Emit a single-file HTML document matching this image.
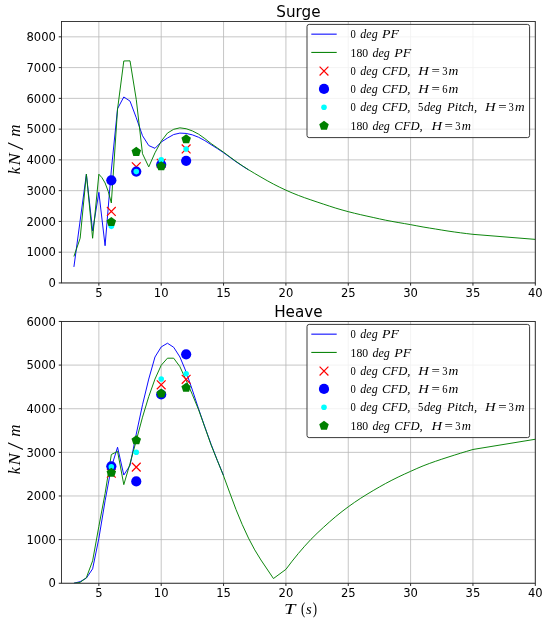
<!DOCTYPE html><html><head><meta charset="utf-8"><title>Surge / Heave</title><style>html,body{margin:0;padding:0;background:#fff}svg{display:block}</style></head><body>
<svg width="550" height="624" viewBox="0 0 550 624">
<rect width="550" height="624" fill="#fff"/>
<rect x="61.45" y="21.45" width="473.85" height="261.50" fill="#fff"/>
<line x1="98.86" y1="21.45" x2="98.86" y2="282.95" stroke="#b8b8b8" stroke-width="0.8"/>
<line x1="161.21" y1="21.45" x2="161.21" y2="282.95" stroke="#b8b8b8" stroke-width="0.8"/>
<line x1="223.56" y1="21.45" x2="223.56" y2="282.95" stroke="#b8b8b8" stroke-width="0.8"/>
<line x1="285.91" y1="21.45" x2="285.91" y2="282.95" stroke="#b8b8b8" stroke-width="0.8"/>
<line x1="348.25" y1="21.45" x2="348.25" y2="282.95" stroke="#b8b8b8" stroke-width="0.8"/>
<line x1="410.60" y1="21.45" x2="410.60" y2="282.95" stroke="#b8b8b8" stroke-width="0.8"/>
<line x1="472.95" y1="21.45" x2="472.95" y2="282.95" stroke="#b8b8b8" stroke-width="0.8"/>
<line x1="535.30" y1="21.45" x2="535.30" y2="282.95" stroke="#b8b8b8" stroke-width="0.8"/>
<line x1="61.45" y1="282.95" x2="535.30" y2="282.95" stroke="#b8b8b8" stroke-width="0.8"/>
<line x1="61.45" y1="252.19" x2="535.30" y2="252.19" stroke="#b8b8b8" stroke-width="0.8"/>
<line x1="61.45" y1="221.42" x2="535.30" y2="221.42" stroke="#b8b8b8" stroke-width="0.8"/>
<line x1="61.45" y1="190.66" x2="535.30" y2="190.66" stroke="#b8b8b8" stroke-width="0.8"/>
<line x1="61.45" y1="159.89" x2="535.30" y2="159.89" stroke="#b8b8b8" stroke-width="0.8"/>
<line x1="61.45" y1="129.13" x2="535.30" y2="129.13" stroke="#b8b8b8" stroke-width="0.8"/>
<line x1="61.45" y1="98.36" x2="535.30" y2="98.36" stroke="#b8b8b8" stroke-width="0.8"/>
<line x1="61.45" y1="67.60" x2="535.30" y2="67.60" stroke="#b8b8b8" stroke-width="0.8"/>
<line x1="61.45" y1="36.83" x2="535.30" y2="36.83" stroke="#b8b8b8" stroke-width="0.8"/>
<clipPath id="cp1"><rect x="61.45" y="21.45" width="473.85" height="261.50"/></clipPath>
<g clip-path="url(#cp1)">
<polyline points="73.92,266.92 86.39,174.20 92.62,230.96 98.86,192.35 105.09,245.72 111.33,170.04 117.56,108.67 123.80,96.98 130.03,101.13 136.27,117.74 142.50,135.74 148.74,145.55 154.97,148.32 161.21,142.05 167.44,138.05 173.68,134.54 179.91,133.10 186.15,133.43 192.38,134.86 198.62,137.28 204.85,140.63 211.09,144.63 217.32,148.56 223.56,152.69 229.79,157.21 236.03,161.74 242.26,165.92 248.50,169.89" fill="none" stroke="#0000ff" stroke-width="0.95" stroke-linejoin="round"/>
<polyline points="73.92,256.46 80.15,238.28 86.39,174.20 92.62,238.28 98.86,174.20 101.98,177.73 105.09,182.96 108.21,191.27 111.33,202.96 117.56,109.13 123.80,60.98 130.03,60.83 136.27,99.59 142.50,153.74 148.74,166.87 154.97,152.82 161.21,141.25 167.44,133.10 173.68,129.31 179.91,127.83 186.15,128.73 192.38,130.91 198.62,134.17 204.85,138.60 211.09,143.56 217.32,147.89 223.56,152.20 229.79,156.84 236.03,161.43 242.26,165.68 248.50,169.71 254.73,173.49 260.97,177.12 267.20,180.68 273.44,184.07 279.67,187.22 285.91,190.16 292.14,192.90 298.38,195.42 304.61,197.72 310.84,199.89 317.08,202.00 323.31,204.07 329.55,206.14 335.78,208.13 342.02,209.96 348.25,211.67 354.49,213.24 360.72,214.71 366.96,216.12 373.19,217.48 379.43,218.87 385.66,220.19 391.90,221.38 398.13,222.50 404.37,223.57 410.60,224.65 416.84,225.83 423.07,226.99 429.31,228.02 435.54,229.02 441.78,230.05 448.01,231.05 454.25,231.96 460.48,232.80 466.72,233.60 472.95,234.34 535.30,239.39" fill="none" stroke="#008000" stroke-width="0.95" stroke-linejoin="round"/>
<path d="M106.93 207.02L115.73 215.82M106.93 215.82L115.73 207.02" stroke="#ff0000" stroke-width="1.2" fill="none"/>
<path d="M131.87 162.41L140.67 171.21M131.87 171.21L140.67 162.41" stroke="#ff0000" stroke-width="1.2" fill="none"/>
<path d="M156.81 158.88L165.61 167.68M156.81 167.68L165.61 158.88" stroke="#ff0000" stroke-width="1.2" fill="none"/>
<path d="M181.75 144.54L190.55 153.34M181.75 153.34L190.55 144.54" stroke="#ff0000" stroke-width="1.2" fill="none"/>
<circle cx="111.33" cy="180.29" r="5.10" fill="#0000ff"/>
<circle cx="136.27" cy="171.61" r="5.10" fill="#0000ff"/>
<circle cx="161.21" cy="164.66" r="5.10" fill="#0000ff"/>
<circle cx="186.15" cy="160.84" r="5.10" fill="#0000ff"/>
<circle cx="111.33" cy="226.34" r="2.80" fill="#00ffff"/>
<circle cx="136.27" cy="171.61" r="2.80" fill="#00ffff"/>
<circle cx="161.21" cy="159.89" r="2.80" fill="#00ffff"/>
<circle cx="186.15" cy="148.94" r="2.80" fill="#00ffff"/>
<polygon points="111.33,217.01 116.08,220.46 114.27,226.05 108.39,226.05 106.57,220.46" fill="#008000"/>
<polygon points="136.27,146.83 141.02,150.29 139.21,155.88 133.33,155.88 131.51,150.29" fill="#008000"/>
<polygon points="161.21,161.23 165.96,164.68 164.15,170.27 158.27,170.27 156.45,164.68" fill="#008000"/>
<polygon points="186.15,134.31 190.90,137.76 189.09,143.35 183.21,143.35 181.39,137.76" fill="#008000"/>
</g>
<line x1="98.86" y1="282.95" x2="98.86" y2="285.65" stroke="#262626" stroke-width="1"/>
<text x="98.86" y="296.85" font-family='"DejaVu Sans","Liberation Sans",sans-serif' font-size="11.55" text-anchor="middle" fill="#000">5</text>
<line x1="161.21" y1="282.95" x2="161.21" y2="285.65" stroke="#262626" stroke-width="1"/>
<text x="161.21" y="296.85" font-family='"DejaVu Sans","Liberation Sans",sans-serif' font-size="11.55" text-anchor="middle" fill="#000">10</text>
<line x1="223.56" y1="282.95" x2="223.56" y2="285.65" stroke="#262626" stroke-width="1"/>
<text x="223.56" y="296.85" font-family='"DejaVu Sans","Liberation Sans",sans-serif' font-size="11.55" text-anchor="middle" fill="#000">15</text>
<line x1="285.91" y1="282.95" x2="285.91" y2="285.65" stroke="#262626" stroke-width="1"/>
<text x="285.91" y="296.85" font-family='"DejaVu Sans","Liberation Sans",sans-serif' font-size="11.55" text-anchor="middle" fill="#000">20</text>
<line x1="348.25" y1="282.95" x2="348.25" y2="285.65" stroke="#262626" stroke-width="1"/>
<text x="348.25" y="296.85" font-family='"DejaVu Sans","Liberation Sans",sans-serif' font-size="11.55" text-anchor="middle" fill="#000">25</text>
<line x1="410.60" y1="282.95" x2="410.60" y2="285.65" stroke="#262626" stroke-width="1"/>
<text x="410.60" y="296.85" font-family='"DejaVu Sans","Liberation Sans",sans-serif' font-size="11.55" text-anchor="middle" fill="#000">30</text>
<line x1="472.95" y1="282.95" x2="472.95" y2="285.65" stroke="#262626" stroke-width="1"/>
<text x="472.95" y="296.85" font-family='"DejaVu Sans","Liberation Sans",sans-serif' font-size="11.55" text-anchor="middle" fill="#000">35</text>
<line x1="535.30" y1="282.95" x2="535.30" y2="285.65" stroke="#262626" stroke-width="1"/>
<text x="535.30" y="296.85" font-family='"DejaVu Sans","Liberation Sans",sans-serif' font-size="11.55" text-anchor="middle" fill="#000">40</text>
<line x1="58.75" y1="282.95" x2="61.45" y2="282.95" stroke="#262626" stroke-width="1"/>
<text x="55.85" y="287.15" font-family='"DejaVu Sans","Liberation Sans",sans-serif' font-size="11.55" text-anchor="end" fill="#000">0</text>
<line x1="58.75" y1="252.19" x2="61.45" y2="252.19" stroke="#262626" stroke-width="1"/>
<text x="55.85" y="256.39" font-family='"DejaVu Sans","Liberation Sans",sans-serif' font-size="11.55" text-anchor="end" fill="#000">1000</text>
<line x1="58.75" y1="221.42" x2="61.45" y2="221.42" stroke="#262626" stroke-width="1"/>
<text x="55.85" y="225.62" font-family='"DejaVu Sans","Liberation Sans",sans-serif' font-size="11.55" text-anchor="end" fill="#000">2000</text>
<line x1="58.75" y1="190.66" x2="61.45" y2="190.66" stroke="#262626" stroke-width="1"/>
<text x="55.85" y="194.86" font-family='"DejaVu Sans","Liberation Sans",sans-serif' font-size="11.55" text-anchor="end" fill="#000">3000</text>
<line x1="58.75" y1="159.89" x2="61.45" y2="159.89" stroke="#262626" stroke-width="1"/>
<text x="55.85" y="164.09" font-family='"DejaVu Sans","Liberation Sans",sans-serif' font-size="11.55" text-anchor="end" fill="#000">4000</text>
<line x1="58.75" y1="129.13" x2="61.45" y2="129.13" stroke="#262626" stroke-width="1"/>
<text x="55.85" y="133.33" font-family='"DejaVu Sans","Liberation Sans",sans-serif' font-size="11.55" text-anchor="end" fill="#000">5000</text>
<line x1="58.75" y1="98.36" x2="61.45" y2="98.36" stroke="#262626" stroke-width="1"/>
<text x="55.85" y="102.56" font-family='"DejaVu Sans","Liberation Sans",sans-serif' font-size="11.55" text-anchor="end" fill="#000">6000</text>
<line x1="58.75" y1="67.60" x2="61.45" y2="67.60" stroke="#262626" stroke-width="1"/>
<text x="55.85" y="71.80" font-family='"DejaVu Sans","Liberation Sans",sans-serif' font-size="11.55" text-anchor="end" fill="#000">7000</text>
<line x1="58.75" y1="36.83" x2="61.45" y2="36.83" stroke="#262626" stroke-width="1"/>
<text x="55.85" y="41.03" font-family='"DejaVu Sans","Liberation Sans",sans-serif' font-size="11.55" text-anchor="end" fill="#000">8000</text>
<rect x="61.45" y="21.45" width="473.85" height="261.50" fill="none" stroke="#262626" stroke-width="0.9"/>
<text x="298.38" y="16.65" font-family='"DejaVu Sans","Liberation Sans",sans-serif' font-size="15.2" text-anchor="middle" fill="#000">Surge</text>
<g transform="translate(19.60,174.20) rotate(-90)" font-family='"Liberation Serif","DejaVu Serif",serif' fill="#000">
<text x="0.00" y="0.00" font-size="15.90" font-style="italic" textLength="7.00" lengthAdjust="spacingAndGlyphs">k</text><text x="8.70" y="0.00" font-size="15.90" font-style="italic" textLength="12.20" lengthAdjust="spacingAndGlyphs">N</text><text x="37.50" y="0.00" font-size="15.90" font-style="italic" textLength="12.30" lengthAdjust="spacingAndGlyphs">m</text>
<text x="24.10" y="3.20" font-size="23.00" font-style="normal" textLength="7.80" lengthAdjust="spacingAndGlyphs">/</text>
</g>
<rect x="307.00" y="24.40" width="222.60" height="113.20" rx="2.2" fill="#fff" fill-opacity="0.8" stroke="#3a3a3a" stroke-width="1"/>
<line x1="311.3" y1="34.15" x2="336.7" y2="34.15" stroke="#0000ff" stroke-width="1.05"/>
<line x1="311.3" y1="52.42" x2="336.7" y2="52.42" stroke="#008000" stroke-width="1.05"/>
<path d="M319.60 66.69L328.40 75.49M319.60 75.49L328.40 66.69" stroke="#ff0000" stroke-width="1.2" fill="none"/>
<circle cx="324.00" cy="88.96" r="5.10" fill="#0000ff"/>
<circle cx="324.00" cy="107.23" r="2.80" fill="#00ffff"/>
<polygon points="324.00,120.80 328.76,124.25 326.94,129.85 321.06,129.85 319.24,124.25" fill="#008000"/>
<g font-family='"Liberation Serif","DejaVu Serif",serif' fill="#000">
<text x="350.60" y="38.40" font-size="12.40" font-style="normal" textLength="5.30" lengthAdjust="spacingAndGlyphs">0</text><text x="360.30" y="38.40" font-size="12.40" font-style="italic" textLength="17.40" lengthAdjust="spacingAndGlyphs">deg</text><text x="382.10" y="38.40" font-size="12.40" font-style="italic" textLength="17.00" lengthAdjust="spacingAndGlyphs">PF</text>
<text x="350.60" y="56.67" font-size="12.40" font-style="normal" textLength="17.60" lengthAdjust="spacingAndGlyphs">180</text><text x="372.50" y="56.67" font-size="12.40" font-style="italic" textLength="17.40" lengthAdjust="spacingAndGlyphs">deg</text><text x="394.30" y="56.67" font-size="12.40" font-style="italic" textLength="17.00" lengthAdjust="spacingAndGlyphs">PF</text>
<text x="350.60" y="74.94" font-size="12.40" font-style="normal" textLength="5.30" lengthAdjust="spacingAndGlyphs">0</text><text x="360.30" y="74.94" font-size="12.40" font-style="italic" textLength="17.40" lengthAdjust="spacingAndGlyphs">deg</text><text x="382.10" y="74.94" font-size="12.40" font-style="italic" textLength="28.40" lengthAdjust="spacingAndGlyphs">CFD,</text><text x="418.30" y="74.94" font-size="12.40" font-style="italic" textLength="10.60" lengthAdjust="spacingAndGlyphs">H</text><text x="431.40" y="74.94" font-size="12.40" font-style="normal" textLength="8.40" lengthAdjust="spacingAndGlyphs">=</text><text x="442.20" y="74.94" font-size="12.40" font-style="normal" textLength="5.30" lengthAdjust="spacingAndGlyphs">3</text><text x="448.60" y="74.94" font-size="12.40" font-style="italic" textLength="9.80" lengthAdjust="spacingAndGlyphs">m</text>
<text x="350.60" y="93.21" font-size="12.40" font-style="normal" textLength="5.30" lengthAdjust="spacingAndGlyphs">0</text><text x="360.30" y="93.21" font-size="12.40" font-style="italic" textLength="17.40" lengthAdjust="spacingAndGlyphs">deg</text><text x="382.10" y="93.21" font-size="12.40" font-style="italic" textLength="28.40" lengthAdjust="spacingAndGlyphs">CFD,</text><text x="418.30" y="93.21" font-size="12.40" font-style="italic" textLength="10.60" lengthAdjust="spacingAndGlyphs">H</text><text x="431.40" y="93.21" font-size="12.40" font-style="normal" textLength="8.40" lengthAdjust="spacingAndGlyphs">=</text><text x="442.20" y="93.21" font-size="12.40" font-style="normal" textLength="5.30" lengthAdjust="spacingAndGlyphs">6</text><text x="448.60" y="93.21" font-size="12.40" font-style="italic" textLength="9.80" lengthAdjust="spacingAndGlyphs">m</text>
<text x="350.60" y="111.48" font-size="12.40" font-style="normal" textLength="5.30" lengthAdjust="spacingAndGlyphs">0</text><text x="360.30" y="111.48" font-size="12.40" font-style="italic" textLength="17.40" lengthAdjust="spacingAndGlyphs">deg</text><text x="382.10" y="111.48" font-size="12.40" font-style="italic" textLength="28.40" lengthAdjust="spacingAndGlyphs">CFD,</text><text x="418.00" y="111.48" font-size="12.40" font-style="normal" textLength="5.30" lengthAdjust="spacingAndGlyphs">5</text><text x="423.90" y="111.48" font-size="12.40" font-style="italic" textLength="17.60" lengthAdjust="spacingAndGlyphs">deg</text><text x="447.10" y="111.48" font-size="12.40" font-style="italic" textLength="30.00" lengthAdjust="spacingAndGlyphs">Pitch,</text><text x="485.00" y="111.48" font-size="12.40" font-style="italic" textLength="10.60" lengthAdjust="spacingAndGlyphs">H</text><text x="498.20" y="111.48" font-size="12.40" font-style="normal" textLength="8.40" lengthAdjust="spacingAndGlyphs">=</text><text x="508.60" y="111.48" font-size="12.40" font-style="normal" textLength="5.30" lengthAdjust="spacingAndGlyphs">3</text><text x="515.00" y="111.48" font-size="12.40" font-style="italic" textLength="9.60" lengthAdjust="spacingAndGlyphs">m</text>
<text x="350.60" y="129.75" font-size="12.40" font-style="normal" textLength="17.60" lengthAdjust="spacingAndGlyphs">180</text><text x="372.50" y="129.75" font-size="12.40" font-style="italic" textLength="17.40" lengthAdjust="spacingAndGlyphs">deg</text><text x="394.30" y="129.75" font-size="12.40" font-style="italic" textLength="28.40" lengthAdjust="spacingAndGlyphs">CFD,</text><text x="431.50" y="129.75" font-size="12.40" font-style="italic" textLength="10.60" lengthAdjust="spacingAndGlyphs">H</text><text x="444.60" y="129.75" font-size="12.40" font-style="normal" textLength="8.40" lengthAdjust="spacingAndGlyphs">=</text><text x="455.20" y="129.75" font-size="12.40" font-style="normal" textLength="5.30" lengthAdjust="spacingAndGlyphs">3</text><text x="461.70" y="129.75" font-size="12.40" font-style="italic" textLength="9.20" lengthAdjust="spacingAndGlyphs">m</text>
</g>
<rect x="61.45" y="321.45" width="473.85" height="261.80" fill="#fff"/>
<line x1="98.86" y1="321.45" x2="98.86" y2="583.25" stroke="#b8b8b8" stroke-width="0.8"/>
<line x1="161.21" y1="321.45" x2="161.21" y2="583.25" stroke="#b8b8b8" stroke-width="0.8"/>
<line x1="223.56" y1="321.45" x2="223.56" y2="583.25" stroke="#b8b8b8" stroke-width="0.8"/>
<line x1="285.91" y1="321.45" x2="285.91" y2="583.25" stroke="#b8b8b8" stroke-width="0.8"/>
<line x1="348.25" y1="321.45" x2="348.25" y2="583.25" stroke="#b8b8b8" stroke-width="0.8"/>
<line x1="410.60" y1="321.45" x2="410.60" y2="583.25" stroke="#b8b8b8" stroke-width="0.8"/>
<line x1="472.95" y1="321.45" x2="472.95" y2="583.25" stroke="#b8b8b8" stroke-width="0.8"/>
<line x1="535.30" y1="321.45" x2="535.30" y2="583.25" stroke="#b8b8b8" stroke-width="0.8"/>
<line x1="61.45" y1="583.25" x2="535.30" y2="583.25" stroke="#b8b8b8" stroke-width="0.8"/>
<line x1="61.45" y1="539.62" x2="535.30" y2="539.62" stroke="#b8b8b8" stroke-width="0.8"/>
<line x1="61.45" y1="495.98" x2="535.30" y2="495.98" stroke="#b8b8b8" stroke-width="0.8"/>
<line x1="61.45" y1="452.35" x2="535.30" y2="452.35" stroke="#b8b8b8" stroke-width="0.8"/>
<line x1="61.45" y1="408.72" x2="535.30" y2="408.72" stroke="#b8b8b8" stroke-width="0.8"/>
<line x1="61.45" y1="365.08" x2="535.30" y2="365.08" stroke="#b8b8b8" stroke-width="0.8"/>
<line x1="61.45" y1="321.45" x2="535.30" y2="321.45" stroke="#b8b8b8" stroke-width="0.8"/>
<clipPath id="cp2"><rect x="61.45" y="321.45" width="473.85" height="261.80"/></clipPath>
<g clip-path="url(#cp2)">
<polyline points="73.92,583.25 80.15,581.64 86.39,578.14 92.62,568.85 98.86,538.39 105.09,500.87 111.33,467.19 117.56,447.24 123.80,475.04 130.03,465.44 136.27,434.02 142.50,404.80 148.74,379.05 154.97,357.01 161.21,346.93 167.44,343.22 173.68,347.28 179.91,356.97 186.15,371.93 192.38,390.03 198.62,408.98 204.85,427.01 211.09,444.28 217.32,460.37 223.56,475.48" fill="none" stroke="#0000ff" stroke-width="0.95" stroke-linejoin="round"/>
<polyline points="73.92,583.25 80.15,582.38 86.39,577.66 92.62,560.82 98.86,526.35 105.09,493.50 111.33,454.53 117.56,451.35 123.80,484.64 130.03,463.52 136.27,440.57 142.50,417.20 148.74,396.63 154.97,379.05 161.21,365.26 167.44,358.19 173.68,358.19 179.91,366.65 186.15,380.36 192.38,394.61 198.62,409.81 204.85,427.26 211.09,444.93 217.32,460.48 223.56,475.87 229.79,492.88 236.03,509.55 242.26,524.61 248.50,538.13 254.73,549.86 260.97,560.04 273.44,578.54 285.91,569.37 292.14,561.16 298.38,553.45 304.61,546.22 310.84,539.49 317.08,533.30 323.31,527.49 329.55,521.87 335.78,516.53 342.02,511.52 348.25,506.80 354.49,502.38 360.72,498.21 366.96,494.30 373.19,490.57 379.43,486.94 385.66,483.46 391.90,480.19 398.13,477.09 404.37,474.15 410.60,471.33 416.84,468.53 423.07,465.88 429.31,463.51 435.54,461.29 441.78,459.18 448.01,457.15 454.25,455.16 460.48,453.22 466.72,451.32 472.95,449.47 535.30,439.26" fill="none" stroke="#008000" stroke-width="0.95" stroke-linejoin="round"/>
<path d="M106.93 468.89L115.73 477.69M106.93 477.69L115.73 468.89" stroke="#ff0000" stroke-width="1.2" fill="none"/>
<path d="M131.87 462.74L140.67 471.54M131.87 471.54L140.67 462.74" stroke="#ff0000" stroke-width="1.2" fill="none"/>
<path d="M156.81 380.41L165.61 389.21M156.81 389.21L165.61 380.41" stroke="#ff0000" stroke-width="1.2" fill="none"/>
<path d="M181.75 374.95L190.55 383.75M181.75 383.75L190.55 374.95" stroke="#ff0000" stroke-width="1.2" fill="none"/>
<circle cx="111.33" cy="466.31" r="5.10" fill="#0000ff"/>
<circle cx="136.27" cy="481.45" r="5.10" fill="#0000ff"/>
<circle cx="161.21" cy="394.49" r="5.10" fill="#0000ff"/>
<circle cx="186.15" cy="354.31" r="5.10" fill="#0000ff"/>
<circle cx="111.33" cy="466.75" r="2.80" fill="#00ffff"/>
<circle cx="136.27" cy="452.22" r="2.80" fill="#00ffff"/>
<circle cx="161.21" cy="378.96" r="2.80" fill="#00ffff"/>
<circle cx="186.15" cy="373.68" r="2.80" fill="#00ffff"/>
<polygon points="111.33,467.77 116.08,471.23 114.27,476.82 108.39,476.82 106.57,471.23" fill="#008000"/>
<polygon points="136.27,435.22 141.02,438.67 139.21,444.27 133.33,444.27 131.51,438.67" fill="#008000"/>
<polygon points="161.21,388.44 165.96,391.90 164.15,397.49 158.27,397.49 156.45,391.90" fill="#008000"/>
<polygon points="186.15,382.77 190.90,386.23 189.09,391.82 183.21,391.82 181.39,386.23" fill="#008000"/>
</g>
<line x1="98.86" y1="583.25" x2="98.86" y2="585.95" stroke="#262626" stroke-width="1"/>
<text x="98.86" y="597.15" font-family='"DejaVu Sans","Liberation Sans",sans-serif' font-size="11.55" text-anchor="middle" fill="#000">5</text>
<line x1="161.21" y1="583.25" x2="161.21" y2="585.95" stroke="#262626" stroke-width="1"/>
<text x="161.21" y="597.15" font-family='"DejaVu Sans","Liberation Sans",sans-serif' font-size="11.55" text-anchor="middle" fill="#000">10</text>
<line x1="223.56" y1="583.25" x2="223.56" y2="585.95" stroke="#262626" stroke-width="1"/>
<text x="223.56" y="597.15" font-family='"DejaVu Sans","Liberation Sans",sans-serif' font-size="11.55" text-anchor="middle" fill="#000">15</text>
<line x1="285.91" y1="583.25" x2="285.91" y2="585.95" stroke="#262626" stroke-width="1"/>
<text x="285.91" y="597.15" font-family='"DejaVu Sans","Liberation Sans",sans-serif' font-size="11.55" text-anchor="middle" fill="#000">20</text>
<line x1="348.25" y1="583.25" x2="348.25" y2="585.95" stroke="#262626" stroke-width="1"/>
<text x="348.25" y="597.15" font-family='"DejaVu Sans","Liberation Sans",sans-serif' font-size="11.55" text-anchor="middle" fill="#000">25</text>
<line x1="410.60" y1="583.25" x2="410.60" y2="585.95" stroke="#262626" stroke-width="1"/>
<text x="410.60" y="597.15" font-family='"DejaVu Sans","Liberation Sans",sans-serif' font-size="11.55" text-anchor="middle" fill="#000">30</text>
<line x1="472.95" y1="583.25" x2="472.95" y2="585.95" stroke="#262626" stroke-width="1"/>
<text x="472.95" y="597.15" font-family='"DejaVu Sans","Liberation Sans",sans-serif' font-size="11.55" text-anchor="middle" fill="#000">35</text>
<line x1="535.30" y1="583.25" x2="535.30" y2="585.95" stroke="#262626" stroke-width="1"/>
<text x="535.30" y="597.15" font-family='"DejaVu Sans","Liberation Sans",sans-serif' font-size="11.55" text-anchor="middle" fill="#000">40</text>
<line x1="58.75" y1="583.25" x2="61.45" y2="583.25" stroke="#262626" stroke-width="1"/>
<text x="55.85" y="587.45" font-family='"DejaVu Sans","Liberation Sans",sans-serif' font-size="11.55" text-anchor="end" fill="#000">0</text>
<line x1="58.75" y1="539.62" x2="61.45" y2="539.62" stroke="#262626" stroke-width="1"/>
<text x="55.85" y="543.82" font-family='"DejaVu Sans","Liberation Sans",sans-serif' font-size="11.55" text-anchor="end" fill="#000">1000</text>
<line x1="58.75" y1="495.98" x2="61.45" y2="495.98" stroke="#262626" stroke-width="1"/>
<text x="55.85" y="500.18" font-family='"DejaVu Sans","Liberation Sans",sans-serif' font-size="11.55" text-anchor="end" fill="#000">2000</text>
<line x1="58.75" y1="452.35" x2="61.45" y2="452.35" stroke="#262626" stroke-width="1"/>
<text x="55.85" y="456.55" font-family='"DejaVu Sans","Liberation Sans",sans-serif' font-size="11.55" text-anchor="end" fill="#000">3000</text>
<line x1="58.75" y1="408.72" x2="61.45" y2="408.72" stroke="#262626" stroke-width="1"/>
<text x="55.85" y="412.92" font-family='"DejaVu Sans","Liberation Sans",sans-serif' font-size="11.55" text-anchor="end" fill="#000">4000</text>
<line x1="58.75" y1="365.08" x2="61.45" y2="365.08" stroke="#262626" stroke-width="1"/>
<text x="55.85" y="369.28" font-family='"DejaVu Sans","Liberation Sans",sans-serif' font-size="11.55" text-anchor="end" fill="#000">5000</text>
<line x1="58.75" y1="321.45" x2="61.45" y2="321.45" stroke="#262626" stroke-width="1"/>
<text x="55.85" y="325.65" font-family='"DejaVu Sans","Liberation Sans",sans-serif' font-size="11.55" text-anchor="end" fill="#000">6000</text>
<rect x="61.45" y="321.45" width="473.85" height="261.80" fill="none" stroke="#262626" stroke-width="0.9"/>
<text x="298.38" y="316.65" font-family='"DejaVu Sans","Liberation Sans",sans-serif' font-size="15.2" text-anchor="middle" fill="#000">Heave</text>
<g transform="translate(19.60,474.20) rotate(-90)" font-family='"Liberation Serif","DejaVu Serif",serif' fill="#000">
<text x="0.00" y="0.00" font-size="15.90" font-style="italic" textLength="7.00" lengthAdjust="spacingAndGlyphs">k</text><text x="8.70" y="0.00" font-size="15.90" font-style="italic" textLength="12.20" lengthAdjust="spacingAndGlyphs">N</text><text x="37.50" y="0.00" font-size="15.90" font-style="italic" textLength="12.30" lengthAdjust="spacingAndGlyphs">m</text>
<text x="24.10" y="3.20" font-size="23.00" font-style="normal" textLength="7.80" lengthAdjust="spacingAndGlyphs">/</text>
</g>
<rect x="307.00" y="324.40" width="222.60" height="113.20" rx="2.2" fill="#fff" fill-opacity="0.8" stroke="#3a3a3a" stroke-width="1"/>
<line x1="311.3" y1="334.15" x2="336.7" y2="334.15" stroke="#0000ff" stroke-width="1.05"/>
<line x1="311.3" y1="352.42" x2="336.7" y2="352.42" stroke="#008000" stroke-width="1.05"/>
<path d="M319.60 366.69L328.40 375.49M319.60 375.49L328.40 366.69" stroke="#ff0000" stroke-width="1.2" fill="none"/>
<circle cx="324.00" cy="388.96" r="5.10" fill="#0000ff"/>
<circle cx="324.00" cy="407.23" r="2.80" fill="#00ffff"/>
<polygon points="324.00,420.80 328.76,424.25 326.94,429.85 321.06,429.85 319.24,424.25" fill="#008000"/>
<g font-family='"Liberation Serif","DejaVu Serif",serif' fill="#000">
<text x="350.60" y="338.40" font-size="12.40" font-style="normal" textLength="5.30" lengthAdjust="spacingAndGlyphs">0</text><text x="360.30" y="338.40" font-size="12.40" font-style="italic" textLength="17.40" lengthAdjust="spacingAndGlyphs">deg</text><text x="382.10" y="338.40" font-size="12.40" font-style="italic" textLength="17.00" lengthAdjust="spacingAndGlyphs">PF</text>
<text x="350.60" y="356.67" font-size="12.40" font-style="normal" textLength="17.60" lengthAdjust="spacingAndGlyphs">180</text><text x="372.50" y="356.67" font-size="12.40" font-style="italic" textLength="17.40" lengthAdjust="spacingAndGlyphs">deg</text><text x="394.30" y="356.67" font-size="12.40" font-style="italic" textLength="17.00" lengthAdjust="spacingAndGlyphs">PF</text>
<text x="350.60" y="374.94" font-size="12.40" font-style="normal" textLength="5.30" lengthAdjust="spacingAndGlyphs">0</text><text x="360.30" y="374.94" font-size="12.40" font-style="italic" textLength="17.40" lengthAdjust="spacingAndGlyphs">deg</text><text x="382.10" y="374.94" font-size="12.40" font-style="italic" textLength="28.40" lengthAdjust="spacingAndGlyphs">CFD,</text><text x="418.30" y="374.94" font-size="12.40" font-style="italic" textLength="10.60" lengthAdjust="spacingAndGlyphs">H</text><text x="431.40" y="374.94" font-size="12.40" font-style="normal" textLength="8.40" lengthAdjust="spacingAndGlyphs">=</text><text x="442.20" y="374.94" font-size="12.40" font-style="normal" textLength="5.30" lengthAdjust="spacingAndGlyphs">3</text><text x="448.60" y="374.94" font-size="12.40" font-style="italic" textLength="9.80" lengthAdjust="spacingAndGlyphs">m</text>
<text x="350.60" y="393.21" font-size="12.40" font-style="normal" textLength="5.30" lengthAdjust="spacingAndGlyphs">0</text><text x="360.30" y="393.21" font-size="12.40" font-style="italic" textLength="17.40" lengthAdjust="spacingAndGlyphs">deg</text><text x="382.10" y="393.21" font-size="12.40" font-style="italic" textLength="28.40" lengthAdjust="spacingAndGlyphs">CFD,</text><text x="418.30" y="393.21" font-size="12.40" font-style="italic" textLength="10.60" lengthAdjust="spacingAndGlyphs">H</text><text x="431.40" y="393.21" font-size="12.40" font-style="normal" textLength="8.40" lengthAdjust="spacingAndGlyphs">=</text><text x="442.20" y="393.21" font-size="12.40" font-style="normal" textLength="5.30" lengthAdjust="spacingAndGlyphs">6</text><text x="448.60" y="393.21" font-size="12.40" font-style="italic" textLength="9.80" lengthAdjust="spacingAndGlyphs">m</text>
<text x="350.60" y="411.48" font-size="12.40" font-style="normal" textLength="5.30" lengthAdjust="spacingAndGlyphs">0</text><text x="360.30" y="411.48" font-size="12.40" font-style="italic" textLength="17.40" lengthAdjust="spacingAndGlyphs">deg</text><text x="382.10" y="411.48" font-size="12.40" font-style="italic" textLength="28.40" lengthAdjust="spacingAndGlyphs">CFD,</text><text x="418.00" y="411.48" font-size="12.40" font-style="normal" textLength="5.30" lengthAdjust="spacingAndGlyphs">5</text><text x="423.90" y="411.48" font-size="12.40" font-style="italic" textLength="17.60" lengthAdjust="spacingAndGlyphs">deg</text><text x="447.10" y="411.48" font-size="12.40" font-style="italic" textLength="30.00" lengthAdjust="spacingAndGlyphs">Pitch,</text><text x="485.00" y="411.48" font-size="12.40" font-style="italic" textLength="10.60" lengthAdjust="spacingAndGlyphs">H</text><text x="498.20" y="411.48" font-size="12.40" font-style="normal" textLength="8.40" lengthAdjust="spacingAndGlyphs">=</text><text x="508.60" y="411.48" font-size="12.40" font-style="normal" textLength="5.30" lengthAdjust="spacingAndGlyphs">3</text><text x="515.00" y="411.48" font-size="12.40" font-style="italic" textLength="9.60" lengthAdjust="spacingAndGlyphs">m</text>
<text x="350.60" y="429.75" font-size="12.40" font-style="normal" textLength="17.60" lengthAdjust="spacingAndGlyphs">180</text><text x="372.50" y="429.75" font-size="12.40" font-style="italic" textLength="17.40" lengthAdjust="spacingAndGlyphs">deg</text><text x="394.30" y="429.75" font-size="12.40" font-style="italic" textLength="28.40" lengthAdjust="spacingAndGlyphs">CFD,</text><text x="431.50" y="429.75" font-size="12.40" font-style="italic" textLength="10.60" lengthAdjust="spacingAndGlyphs">H</text><text x="444.60" y="429.75" font-size="12.40" font-style="normal" textLength="8.40" lengthAdjust="spacingAndGlyphs">=</text><text x="455.20" y="429.75" font-size="12.40" font-style="normal" textLength="5.30" lengthAdjust="spacingAndGlyphs">3</text><text x="461.70" y="429.75" font-size="12.40" font-style="italic" textLength="9.20" lengthAdjust="spacingAndGlyphs">m</text>
</g>
<g font-family='"Liberation Serif","DejaVu Serif",serif' fill="#000">
<text x="284.00" y="614.40" font-size="15.00" font-style="italic" textLength="11.40" lengthAdjust="spacingAndGlyphs">T</text><text x="306.10" y="614.40" font-size="15.00" font-style="italic" textLength="5.70" lengthAdjust="spacingAndGlyphs">s</text>
<text x="300.90" y="614.40" font-size="17.20" font-style="normal" textLength="4.30" lengthAdjust="spacingAndGlyphs">(</text><text x="312.80" y="614.40" font-size="17.20" font-style="normal" textLength="4.30" lengthAdjust="spacingAndGlyphs">)</text>
</g>
</svg></body></html>
